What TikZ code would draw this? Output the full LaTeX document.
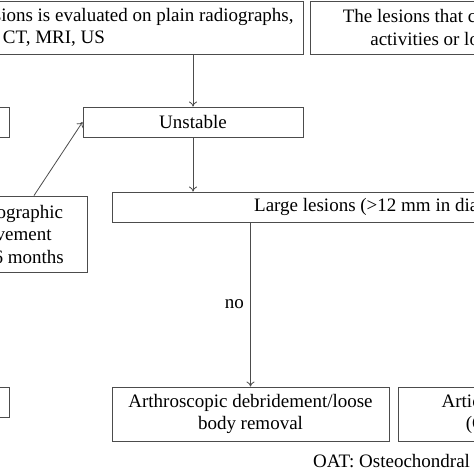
\documentclass[tikz,border=0pt]{standalone}
\usepackage{fontspec}
\setmainfont{Liberation Serif}
\usepackage{tikz}
\usetikzlibrary{calc}
\usetikzlibrary{arrows.meta}
\tikzset{
  box/.style={draw=black!70, line width=0.9pt, align=center, inner sep=0pt},
  link/.style={draw=black!70, line width=0.8pt, -{To[length=5pt,width=8pt]}}
}

\begin{document}
\begin{tikzpicture}[x=1pt, y=-1pt, font=\fontsize{19}{22.5}\selectfont]
  \useasboundingbox (0,0) rectangle (474,474);
  \clip (0,0) rectangle (474,474);
  \fill[white] (0,0) rectangle (474,474);
  % top row
  \node[box, minimum width=498pt, minimum height=53pt] (eval) at (54,27.5)
    {The stability of OCD lesions is evaluated on plain radiographs,\\CT, MRI, US};
  \node[box, minimum width=309pt, minimum height=53pt] (symp) at (464.5,27.5)
    {The lesions that cause pain with\\activities or loose bodies};
  % stable / unstable
  \node[box, minimum width=128pt, minimum height=30pt] (stable) at (-55,122) {};
  \node[box, minimum width=220pt, minimum height=30pt] (unstable) at (193,122) {Unstable};
  \node[box, minimum width=172pt, minimum height=76pt] (radio) at (1,234)
    {No radiographic\\improvement\\after 3-6 months};
  \node[box, minimum width=558pt, minimum height=30pt] (large) at (391,207)
    {Large lesions (>12 mm in diameter)};
  % treatment
  \node[box, minimum width=128pt, minimum height=30pt] (drill) at (-55,402) {};
  \node[box, minimum width=277pt, minimum height=54pt] (arthro) at (250.5,414)
    {Arthroscopic debridement/loose\\body removal};
  \node[box, minimum width=226pt, minimum height=54pt] (repair) at (511,414)
    {Articular cartilage\\(OAT, ACI)};
  \node[anchor=west, inner sep=0pt] (note) at (313,463) {OAT: Osteochondral autograft transfer};

  \draw[link] (unstable.north |- eval.south) -- (unstable.north);
  \draw[link] ([xshift=33pt]radio.north) -- (unstable.west);
  \draw[link] (unstable.south) -- (unstable.south |- large.north);
  \draw[link] (arthro.north |- large.south) -- (arthro.north)
    node[midway, left, xshift=-3pt] (no) {no};
\end{tikzpicture}
\end{document}
